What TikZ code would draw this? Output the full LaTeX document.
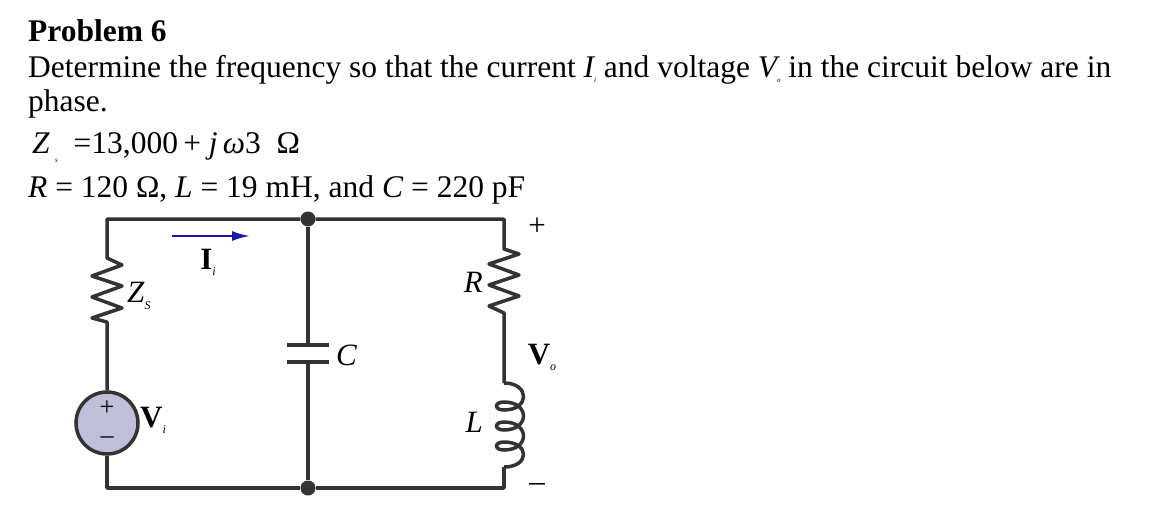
\documentclass[tikz,border=0pt]{standalone}
\usepackage{fontspec}
\setmainfont{Liberation Serif}
\usetikzlibrary{decorations.pathmorphing,arrows.meta}
\begin{document}
\begin{tikzpicture}[x=1pt,y=-1pt,
  wire/.style={line width=3.5pt,color=black!80,line join=round},
  txt/.style={anchor=base west,inner sep=0pt,font=\fontsize{31.5}{34}\selectfont},
  lab/.style={inner sep=0pt,font=\fontsize{31}{32}\selectfont},
  dot/.style={circle,fill=black!80,minimum size=15pt,inner sep=0pt}]
\useasboundingbox (0,0) rectangle (1154,515);
\node[txt,font=\fontsize{31.5}{34}\selectfont\bfseries] (t1) at (28,41) {Problem 6};
\node[txt] (t2) at (28,77) {Determine the frequency so that the current \textit{I\raisebox{-5pt}{\scriptsize i}} and voltage \textit{V\raisebox{-5pt}{\scriptsize o}} in the circuit below are in};
\node[txt] (t3) at (28,111) {phase.};
\node[txt] (t4) at (32,153) {\textit{Z}\,\raisebox{-9pt}{\scriptsize\textit{s}}\ \ =13,000\,+ \textit{j}\,\textit{ω}3\ \ Ω};
\node[txt] (t5) at (28,197) {\textit{R} = 120 Ω, \textit{L} = 19 mH, and \textit{C} = 220 pF};
% nodes
\coordinate (tl) at (107,219); \coordinate (bl) at (107,488);
\node[dot] (tm) at (308,219) {}; \node[dot] (bm) at (308,488) {};
\coordinate (tr) at (504,219); \coordinate (br) at (504,488);
\node[circle,draw=black!80,line width=3.5pt,fill=blue!25!gray!40,minimum size=62pt,inner sep=0pt] (src) at (107,423) {};
\node[font=\fontsize{26}{26}\selectfont] at (107,408) {+};
\node[font=\fontsize{26}{26}\selectfont] at (107,440) {–};
% branches
\draw[wire] (src.north) -- (107,322) -- (92,318) -- (122,308) -- (92,297) -- (122,286) -- (92,276) -- (122,265) -- (107,258) -- (tl) -- (tm) -- (tr)
  -- (504,249) -- (519,254) -- (489,264) -- (519,275) -- (489,285) -- (519,296) -- (489,306) -- (504,313) -- (504,383);
\draw[wire] (src.south) -- (bl) -- (bm) -- (br) -- (504,467);
\draw[wire] (504,383) .. controls (530,383) and (530,410) .. (504,410)
  .. controls (494,410) and (494,402) .. (504,402)
  .. controls (530,402) and (530,430) .. (504,430)
  .. controls (494,430) and (494,422) .. (504,422)
  .. controls (530,422) and (530,450) .. (504,450)
  .. controls (494,450) and (494,442) .. (504,442)
  .. controls (530,442) and (530,467) .. (504,467);
% capacitor
\draw[wire] (tm) -- (308,345); \draw[wire] (bm) -- (308,362);
\draw[wire] (287,345) -- (329,345); \draw[wire] (287,362) -- (329,362);
% arrow
\draw[line width=2.2pt,color=blue!60!black!90,-{Latex[length=18pt,width=10pt]}] (172,236) -- (250,236);
% labels
\node[lab] (li) at (208,262) {\textbf{I}\textit{\raisebox{-6pt}{\large i}}};
\node[lab,anchor=west] (lz) at (127,296) {\textit{Z}\raisebox{-7pt}{\large\textit{S}}};
\node[lab,anchor=west] (lv) at (140,420) {\textbf{V}\raisebox{-6pt}{\large\textit{i}}};
\node[lab,anchor=west] (lc) at (336,355) {\textit{C}};
\node[lab,anchor=east] (lr) at (483,282) {\textit{R}};
\node[lab,anchor=east] (ll) at (483,422) {\textit{L}};
\node[lab] (lvo) at (542,357) {\textbf{V}\raisebox{-6pt}{\large\textit{o}}};
\node[lab] (lp) at (537,227) {+};
\node[lab] (lm) at (537,487) {–};
\end{tikzpicture}
\end{document}
